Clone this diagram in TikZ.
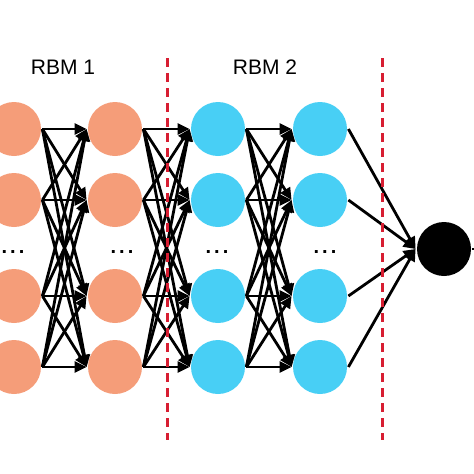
\documentclass[tikz,border=0pt]{standalone}
\usepackage{fontspec}
\setmainfont{Liberation Sans}
\usetikzlibrary{arrows.meta}
\definecolor{rbmorange}{RGB}{245,157,121}
\definecolor{rbmblue}{RGB}{72,207,245}
\definecolor{rbmred}{RGB}{215,30,50}
\begin{document}
\begin{tikzpicture}[x=1pt, y=-1pt, -{Triangle[length=12pt,width=11pt]}, line width=2.8pt,
    unit/.style={circle, minimum size=54pt, inner sep=0pt},
    vis unit/.style={unit, fill=rbmorange},
    hid unit/.style={unit, fill=rbmblue},
    out unit/.style={unit, fill=black},
    dots/.style={font=\fontsize{20}{20}\selectfont\bfseries, anchor=base},
    split/.style={-, rbmred, line width=3pt, dash pattern=on 9pt off 6pt}]
        \useasboundingbox (0,0) rectangle (474,474);
        \tikzstyle{every node}=[font=\fontsize{21}{21}\selectfont]

          % four layers, four units shown in each
          \foreach \y [count=\r] in {129,200,296,367} {
            \node[vis unit] (a\r) at (14,\y) {};
            \node[vis unit] (b\r) at (115,\y) {};
            \node[hid unit] (c\r) at (218,\y) {};
            \node[hid unit] (d\r) at (320,\y) {};
          }
          \node[out unit] (out) at (444,249) {};
          \coordinate (end) at (490,249);

          \node[dots] (da) at (13,253) {.\hspace{3pt}.\hspace{3pt}.};
          \node[dots] (db) at (122,253) {.\hspace{3pt}.\hspace{3pt}.};
          \node[dots] (dc) at (217,253) {.\hspace{3pt}.\hspace{3pt}.};
          \node[dots] (dd) at (325,253) {.\hspace{3pt}.\hspace{3pt}.};

          % full connections between neighbouring layers
          \foreach \i in {1,...,4}
            \foreach \j in {1,...,4} {
              \path (a\i.east) edge (b\j.west);
              \path (b\i.east) edge (c\j.west);
              \path (c\i.east) edge (d\j.west);
            }
          \foreach \i in {1,...,4}
            \path (d\i.east) edge (out.west);
          \draw[-] (out.east) -- (end);

          \draw[split] (167,58) -- (167,440);
          \draw[split] (382,58) -- (382,440);

          \node (rbm1) at (63,67) {RBM 1};
          \node (rbm2) at (265,67) {RBM 2};

\end{tikzpicture}
\end{document}
